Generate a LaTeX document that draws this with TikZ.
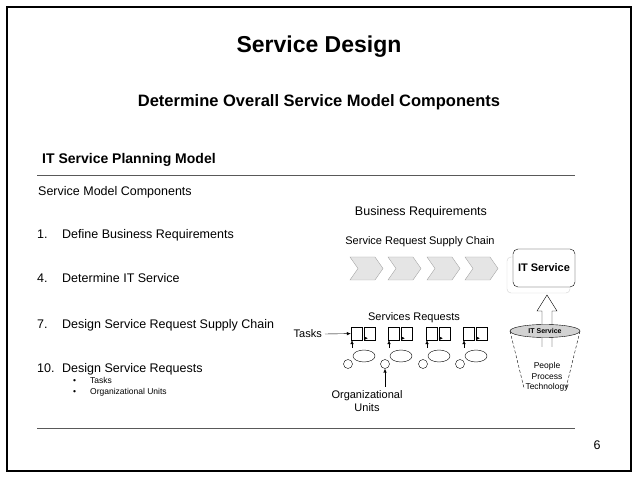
\documentclass[tikz,border=0pt]{standalone}
\usepackage{fontspec}
\setmainfont{Liberation Sans}
\usetikzlibrary{arrows.meta,shapes.geometric,shapes.arrows}
\begin{document}
\begin{tikzpicture}[x=1pt,y=-1pt,
  txt/.style={inner sep=0,font=\fontsize{12.5}{14}\selectfont},
  small/.style={inner sep=0,font=\fontsize{8.5}{10.5}\selectfont},
  mid/.style={inner sep=0,font=\fontsize{11}{13}\selectfont},
  chev/.style={draw=gray!70,fill=gray!20},
  sq/.style={draw,minimum width=11,minimum height=13,inner sep=0},
  arr/.style={-{Latex[length=4,width=3.5]}}]
\useasboundingbox (0,0) rectangle (638,478);
\draw[line width=2] (7,7) rectangle (631,471);
\node (t) at (319,47) {\fontsize{23}{26}\selectfont\bfseries Service Design};
\node (st) at (319,102) {\fontsize{16.5}{19}\selectfont\bfseries Determine Overall Service Model Components};
\node[anchor=west,inner sep=0] (pm) at (42,160) {\fontsize{14}{16}\selectfont\bfseries IT Service Planning Model};
\draw[gray!70!black] (37,175) coordinate (l1) -- (575,175) coordinate (l2);
\node[txt,anchor=west] (smc) at (38,192) {Service Model Components};
\node[txt] (br) at (421,212) {Business Requirements};
\foreach \n/\y/\t in {1./234/Define Business Requirements,4./278/Determine IT Service,7./324/Design Service Request Supply Chain,10./368/Design Service Requests}{
  \node[txt,anchor=base west] at (37,\y+4.5) {\n};
  \node[txt,anchor=base west] at (62,\y+4.5) {\t};}
\node[small,anchor=west] (b1) at (73,380) {\textbullet\hspace{14pt}Tasks};
\node[small,anchor=west] (b2) at (73,392) {\textbullet\hspace{14pt}Organizational Units};
\draw[gray!70!black] (37,428) coordinate (l3) -- (575,428) coordinate (l4);
\node[txt] (pg) at (597,445) {6};
% chain
\node[mid] (src) at (420,242) {Service Request Supply Chain};
\foreach \x in {350,388,427,465}{
  \draw[chev] (\x,257) -- (\x+25,257) -- (\x+33,268.5) -- (\x+25,280) -- (\x,280) -- (\x+8,268.5) -- cycle;}
\draw[draw=gray!35,fill=white,rounded corners=4] (507,257) rectangle (570,293);
\node[draw,fill=white,rounded corners=5,minimum width=62,minimum height=38,inner sep=0,font=\fontsize{11}{13}\selectfont\bfseries] (its) at (544,268) {IT Service};
\draw[fill=white] (542,347) -- (542,311) -- (537,311) -- (547,295) -- (557,311) -- (552,311) -- (552,347);
\node[small,align=center] (ppt) at (547,377) {People\\Process\\Technology};
\draw[densely dashed] (510,331) -- (524,388);
\draw[densely dashed] (580,331) -- (566,388);
\node[ellipse,draw,fill=gray!35,minimum width=70,minimum height=13,inner sep=0,font=\fontsize{7}{8}\selectfont\bfseries] (ite) at (545,331) {IT Service};
% service requests
\node[mid] (sr) at (414,318) {Services Requests};
\node[mid,anchor=east] (tasks) at (322,334) {Tasks};
\foreach \i/\x in {1/351,2/388,3/426,4/463}{
  \node[sq] (a\i) at (\x+5.5,333.5) {};
  \node[sq] (b\i) at (\x+18.5,333.5) {};
  \draw[-{Latex[length=3,width=3]}] (b\i.south west)++(0,-2) -- ++(4,0);
  \node[ellipse,draw,minimum width=22,minimum height=12,inner sep=0] (e\i) at (\x+13,356) {};
  \node[circle,draw,minimum size=9,inner sep=0] (c\i) at (\x-3,364) {};
  \draw[arr] (\x+1,348) -- (a\i.south west -| {\x+1,0});}
\draw[arr] (tasks.east) ++(3,0) -- (a1);
\node[mid,align=center] (ou) at (367,401) {Organizational\\Units};
\draw[arr] (385,387) -- (c2);
\end{tikzpicture}
\end{document}
